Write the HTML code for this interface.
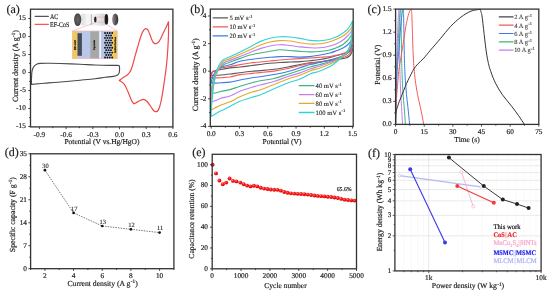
<!DOCTYPE html>
<html><head><meta charset="utf-8"><style>
html,body{margin:0;padding:0;background:#fff;width:550px;height:294px;overflow:hidden}
svg{display:block;will-change:transform;filter:blur(0.3px)}
text{font-family:"Liberation Serif",serif;text-rendering:geometricPrecision;stroke:currentColor;stroke-width:0.18px}
</style></head><body>
<svg width="550" height="294" viewBox="0 0 550 294">
<rect width="550" height="294" fill="#fff"/>
<text x="6.4" y="12.9" font-size="12" text-anchor="start" fill="#222" color="#222" font-weight="normal" >(a)</text>
<path d="M31.4,84.4 C31.42,83.33 31.42,80.07 31.5,78 C31.58,75.93 31.67,73.62 31.9,72 C32.13,70.38 32.47,69.33 32.9,68.3 C33.33,67.27 33.87,66.48 34.5,65.8 C35.13,65.12 35.78,64.6 36.7,64.2 C37.62,63.8 37.78,63.55 40,63.4 C42.22,63.25 46.67,63.28 50,63.3 C53.33,63.32 55,63.35 60,63.5 C65,63.65 74.17,63.95 80,64.2 C85.83,64.45 89.95,64.8 95,65 C100.05,65.2 106.55,65.33 110.3,65.4 C114.05,65.47 116,65.32 117.5,65.4 C119,65.48 119,65.82 119.3,65.9 L119.3,65.9 C119.35,66.3 119.62,67.18 119.6,68.3 C119.58,69.42 119.53,71.48 119.2,72.6 C118.87,73.72 118.57,74.37 117.6,75 C116.63,75.63 115.47,76.02 113.4,76.4 C111.33,76.78 108.27,76.92 105.2,77.3 C102.13,77.68 99.2,78.22 95,78.7 C90.8,79.18 86.17,79.6 80,80.2 C73.83,80.8 63.95,81.8 58,82.3 C52.05,82.8 47.85,82.93 44.3,83.2 C40.75,83.47 38.85,83.7 36.7,83.9 C34.55,84.1 32.28,84.32 31.4,84.4" stroke="#4a4a4a" stroke-width="1.15" fill="none" stroke-linejoin="round" stroke-linecap="round" />
<path d="M119.3,80.4 C119.92,79.97 121.68,78.7 123,77.8 C124.32,76.9 126.12,75.88 127.2,75 C128.28,74.12 128.82,73.47 129.5,72.5 C130.18,71.53 130.63,70.95 131.3,69.2 C131.97,67.45 132.82,64.38 133.5,62 C134.18,59.62 134.73,57.32 135.4,54.9 C136.07,52.48 136.82,49.88 137.5,47.5 C138.18,45.12 138.83,42.77 139.5,40.6 C140.17,38.43 140.82,36.2 141.5,34.5 C142.18,32.8 142.92,31.38 143.6,30.4 C144.28,29.42 144.98,28.78 145.6,28.6 C146.22,28.42 146.78,28.83 147.3,29.3 C147.82,29.77 148.2,30.37 148.7,31.4 C149.2,32.43 149.8,34.13 150.3,35.5 C150.8,36.87 151.2,38.43 151.7,39.6 C152.2,40.77 152.72,41.82 153.3,42.5 C153.88,43.18 154.58,43.57 155.2,43.7 C155.82,43.83 156.38,43.65 157,43.3 C157.62,42.95 158.23,42.48 158.9,41.6 C159.57,40.72 160.32,39.35 161,38 C161.68,36.65 162.17,35.25 163,33.5 C163.83,31.75 165.08,29.45 166,27.5 C166.92,25.55 168.08,22.75 168.5,21.8 L168.5,21.8 C168.5,23.92 168.63,29.67 168.5,34.5 C168.37,39.33 168.05,45.55 167.7,50.8 C167.35,56.05 166.82,61.97 166.4,66 C165.98,70.03 165.65,71.72 165.2,75 C164.75,78.28 164.28,81.87 163.7,85.7 C163.12,89.53 162.38,94.45 161.7,98 C161.02,101.55 160.28,104.83 159.6,107 C158.92,109.17 158.27,110.22 157.6,111 C156.93,111.78 156.28,111.78 155.6,111.7 C154.92,111.62 154.15,111.13 153.5,110.5 C152.85,109.87 152.77,109.4 151.7,107.9 C150.63,106.4 148.5,102.92 147.1,101.5 C145.7,100.08 144.82,99.38 143.3,99.4 C141.78,99.42 139.42,100.9 138,101.6 C136.58,102.3 135.6,103.37 134.8,103.6 C134,103.83 133.82,103.68 133.2,103 C132.58,102.32 131.97,101.37 131.1,99.5 C130.23,97.63 129.15,94.35 128,91.8 C126.85,89.25 125.65,86.1 124.2,84.2 C122.75,82.3 120.12,81.03 119.3,80.4" stroke="#f04848" stroke-width="1.2" fill="none" stroke-linejoin="round" stroke-linecap="round" />
<rect x="30.5" y="9.2" width="142.4" height="117.7" fill="none" stroke="#333" stroke-width="1.3"/>
<path d="M39.4,126.9v2.2M66.1,126.9v2.2M92.8,126.9v2.2M119.5,126.9v2.2M146.2,126.9v2.2M172.9,126.9v2.2M52.75,126.9v1.3M79.45,126.9v1.3M106.15,126.9v1.3M132.85,126.9v1.3M159.55,126.9v1.3" stroke="#333" stroke-width="0.9" fill="none"/>
<text x="39.4" y="136.5" font-size="7.3" text-anchor="middle" fill="#222" color="#222" font-weight="normal" >-0.9</text>
<text x="66.1" y="136.5" font-size="7.3" text-anchor="middle" fill="#222" color="#222" font-weight="normal" >-0.6</text>
<text x="92.8" y="136.5" font-size="7.3" text-anchor="middle" fill="#222" color="#222" font-weight="normal" >-0.3</text>
<text x="119.5" y="136.5" font-size="7.3" text-anchor="middle" fill="#222" color="#222" font-weight="normal" >0.0</text>
<text x="146.2" y="136.5" font-size="7.3" text-anchor="middle" fill="#222" color="#222" font-weight="normal" >0.3</text>
<text x="172.9" y="136.5" font-size="7.3" text-anchor="middle" fill="#222" color="#222" font-weight="normal" >0.6</text>
<path d="M30.5,126.5h-2.2M30.5,108.5h-2.2M30.5,90.5h-2.2M30.5,72.5h-2.2M30.5,54.5h-2.2M30.5,36.5h-2.2M30.5,18.5h-2.2M30.5,117.5h-1.3M30.5,99.5h-1.3M30.5,81.5h-1.3M30.5,63.5h-1.3M30.5,45.5h-1.3M30.5,27.5h-1.3" stroke="#333" stroke-width="0.9" fill="none"/>
<text x="25.8" y="128.45" font-size="7.3" text-anchor="end" fill="#222" color="#222" font-weight="normal" >-15</text>
<text x="25.8" y="110.45" font-size="7.3" text-anchor="end" fill="#222" color="#222" font-weight="normal" >-10</text>
<text x="25.8" y="92.45" font-size="7.3" text-anchor="end" fill="#222" color="#222" font-weight="normal" >-5</text>
<text x="25.8" y="74.45" font-size="7.3" text-anchor="end" fill="#222" color="#222" font-weight="normal" >0</text>
<text x="25.8" y="56.45" font-size="7.3" text-anchor="end" fill="#222" color="#222" font-weight="normal" >5</text>
<text x="25.8" y="38.45" font-size="7.3" text-anchor="end" fill="#222" color="#222" font-weight="normal" >10</text>
<text x="25.8" y="20.45" font-size="7.3" text-anchor="end" fill="#222" color="#222" font-weight="normal" >15</text>
<text x="102" y="143.9" font-size="7.5" text-anchor="middle" fill="#222" color="#222" font-weight="normal" >Potential (V vs.Hg/HgO)</text>
<text transform="translate(17.7,66) rotate(-90)" font-size="7.9" text-anchor="middle" fill="#222" color="#222">Current density (A g<tspan dy="-2.7" dx="0.4" font-size="5.2">-1</tspan><tspan dy="2.7">)</tspan></text>
<path d="M35.1,16.4H48.4" stroke="#555" stroke-width="1.1" fill="none" stroke-linejoin="round" stroke-linecap="round" />
<path d="M35.1,24.4H48.4" stroke="#f55" stroke-width="1.1" fill="none" stroke-linejoin="round" stroke-linecap="round" />
<text x="50" y="19" font-size="7.2" text-anchor="start" fill="#222" color="#222" font-weight="normal"  textLength="8.4" lengthAdjust="spacingAndGlyphs">AC</text>
<text x="50" y="27" font-size="7.2" text-anchor="start" fill="#222" color="#222" font-weight="normal"  textLength="19.3" lengthAdjust="spacingAndGlyphs">EF-CoS</text>
<defs><linearGradient id="tube" x1="0" y1="0" x2="1" y2="0"><stop offset="0" stop-color="#dcdcdc"/><stop offset="0.25" stop-color="#f6f6f6"/><stop offset="0.6" stop-color="#eeeeee"/><stop offset="1" stop-color="#d6d6d6"/></linearGradient><radialGradient id="capL" cx="0.5" cy="0.5" r="0.6"><stop offset="0" stop-color="#6a6a6a"/><stop offset="1" stop-color="#3c3c3c"/></radialGradient><linearGradient id="capR" x1="0" y1="0" x2="1" y2="0"><stop offset="0" stop-color="#9a9a9a"/><stop offset="0.5" stop-color="#5a5a5a"/><stop offset="1" stop-color="#2e2e2e"/></linearGradient></defs>
<rect x="81.5" y="13.6" width="23.5" height="12" fill="url(#tube)"/>
<path d="M91.4,14.5V25" stroke="#777" stroke-width="0.5"/>
<ellipse cx="77.7" cy="19.6" rx="3.6" ry="6.4" fill="url(#capL)"/>
<circle cx="78" cy="19.4" r="0.6" fill="#c03030"/>
<ellipse cx="115.2" cy="19.4" rx="3.1" ry="6" fill="url(#capR)"/>
<circle cx="115.4" cy="19.6" r="0.5" fill="#b04040"/>
<path d="M95.5,17.1H106M95.5,22.1H106" stroke="#f4a0a0" stroke-width="0.5"/>
<ellipse cx="95.3" cy="19.6" rx="1.2" ry="3" fill="#1e1e1e"/>
<ellipse cx="106.4" cy="19.4" rx="1.8" ry="5.4" fill="#1e1e1e"/>
<path d="M95.3,22.6L72.4,31M106.6,24.6L117.1,31" stroke="#f4a0a0" stroke-width="0.55"/>
<rect x="72.4" y="31" width="44.8" height="27.7" fill="#b9c8e8" stroke="#f7b3b3" stroke-width="0.7"/>
<rect x="72.8" y="31.4" width="4.4" height="26.9" fill="#f3ca50"/>
<rect x="112.2" y="31.4" width="4.6" height="26.9" fill="#f3ca50"/>
<rect x="77.5" y="33.2" width="4.4" height="22.6" fill="#464b57"/>
<rect x="90.3" y="31.4" width="8.6" height="26.9" fill="#a7a7a7"/>
<rect x="99.4" y="31.4" width="1.6" height="26.9" fill="#f4f4f4"/>
<g fill="#111"><circle cx="105" cy="33" r="0.95"/><circle cx="107.4" cy="33" r="0.95"/><circle cx="109.8" cy="33" r="0.95"/><circle cx="112.2" cy="33" r="0.95"/><circle cx="106.2" cy="35.45" r="0.95"/><circle cx="108.6" cy="35.45" r="0.95"/><circle cx="111" cy="35.45" r="0.95"/><circle cx="105" cy="37.9" r="0.95"/><circle cx="107.4" cy="37.9" r="0.95"/><circle cx="109.8" cy="37.9" r="0.95"/><circle cx="112.2" cy="37.9" r="0.95"/><circle cx="106.2" cy="40.35" r="0.95"/><circle cx="108.6" cy="40.35" r="0.95"/><circle cx="111" cy="40.35" r="0.95"/><circle cx="105" cy="42.8" r="0.95"/><circle cx="107.4" cy="42.8" r="0.95"/><circle cx="109.8" cy="42.8" r="0.95"/><circle cx="112.2" cy="42.8" r="0.95"/><circle cx="106.2" cy="45.25" r="0.95"/><circle cx="108.6" cy="45.25" r="0.95"/><circle cx="111" cy="45.25" r="0.95"/><circle cx="105" cy="47.7" r="0.95"/><circle cx="107.4" cy="47.7" r="0.95"/><circle cx="109.8" cy="47.7" r="0.95"/><circle cx="112.2" cy="47.7" r="0.95"/><circle cx="106.2" cy="50.15" r="0.95"/><circle cx="108.6" cy="50.15" r="0.95"/><circle cx="111" cy="50.15" r="0.95"/><circle cx="105" cy="52.6" r="0.95"/><circle cx="107.4" cy="52.6" r="0.95"/><circle cx="109.8" cy="52.6" r="0.95"/><circle cx="112.2" cy="52.6" r="0.95"/><circle cx="106.2" cy="55.05" r="0.95"/><circle cx="108.6" cy="55.05" r="0.95"/><circle cx="111" cy="55.05" r="0.95"/><circle cx="105" cy="57.5" r="0.95"/><circle cx="107.4" cy="57.5" r="0.95"/><circle cx="109.8" cy="57.5" r="0.95"/><circle cx="112.2" cy="57.5" r="0.95"/></g>
<text transform="translate(75.9,45) rotate(-90)" font-size="2.9" text-anchor="middle" fill="#222" font-weight="bold">EF-CoS</text>
<text transform="translate(95.4,45) rotate(-90)" font-size="2.6" text-anchor="middle" fill="#333">Separator</text>
<text transform="translate(115.5,45) rotate(-90)" font-size="2.6" text-anchor="middle" fill="#222" font-weight="bold">Active Carbon</text>
<text x="190.2" y="12.9" font-size="12" text-anchor="start" fill="#222" color="#222" font-weight="normal" >(b)</text>
<path d="M211,75.5 C211.13,75.08 211.47,73.67 211.8,73 C212.13,72.33 212.05,71.95 213,71.5 C213.95,71.05 216,70.67 217.5,70.3 C219,69.93 219.92,69.7 222,69.3 C224.08,68.9 227,68.28 230,67.9 C233,67.52 236.67,67.35 240,67 C243.33,66.65 246.67,66.22 250,65.8 C253.33,65.38 256.67,64.92 260,64.5 C263.33,64.08 266.67,63.63 270,63.3 C273.33,62.97 276.67,62.72 280,62.5 C283.33,62.28 286.67,62.15 290,62 C293.33,61.85 296.67,61.82 300,61.6 C303.33,61.38 306.67,61.05 310,60.7 C313.33,60.35 316.67,60.03 320,59.5 C323.33,58.97 327.17,58.17 330,57.5 C332.83,56.83 334.83,56.08 337,55.5 C339.17,54.92 341.25,54.5 343,54 C344.75,53.5 346.25,53 347.5,52.5 C348.75,52 349.67,51.58 350.5,51 C351.33,50.42 352.17,49.33 352.5,49 L352.5,49 C352.33,49.67 352,51.83 351.5,53 C351,54.17 350.42,55.17 349.5,56 C348.58,56.83 347.58,57.5 346,58 C344.42,58.5 342.67,58.58 340,59 C337.33,59.42 333.33,60.03 330,60.5 C326.67,60.97 323.33,61.42 320,61.8 C316.67,62.18 313.33,62.35 310,62.8 C306.67,63.25 303.67,63.8 300,64.5 C296.33,65.2 292.33,66.2 288,67 C283.67,67.8 278.67,68.7 274,69.3 C269.33,69.9 263.67,70.27 260,70.6 C256.33,70.93 255.33,70.95 252,71.3 C248.67,71.65 243.67,72.25 240,72.7 C236.33,73.15 233.17,73.62 230,74 C226.83,74.38 223.5,74.78 221,75 C218.5,75.22 216.67,75.22 215,75.3 C213.33,75.38 211.67,75.47 211,75.5" stroke="#5a5a5a" stroke-width="1.15" fill="none" stroke-linejoin="round" stroke-linecap="round" />
<path d="M211,77.8 C211.1,77.25 211.35,75.43 211.6,74.5 C211.85,73.57 212.1,72.78 212.5,72.2 C212.9,71.62 213.17,71.4 214,71 C214.83,70.6 216.33,70.3 217.5,69.8 C218.67,69.3 218.92,68.53 221,68 C223.08,67.47 226.83,67.17 230,66.6 C233.17,66.03 236.67,65.2 240,64.6 C243.33,64 246.67,63.43 250,63 C253.33,62.57 256.67,62.33 260,62 C263.33,61.67 266.67,61.33 270,61 C273.33,60.67 276.67,60.3 280,60 C283.33,59.7 286.67,59.43 290,59.2 C293.33,58.97 296.67,58.8 300,58.6 C303.33,58.4 306.67,58.22 310,58 C313.33,57.78 316.67,57.55 320,57.3 C323.33,57.05 327.17,56.88 330,56.5 C332.83,56.12 334.83,55.5 337,55 C339.17,54.5 341.25,54.08 343,53.5 C344.75,52.92 346.25,52.25 347.5,51.5 C348.75,50.75 349.67,50.08 350.5,49 C351.33,47.92 352.17,45.67 352.5,45 L352.5,45 C352.33,45.83 352,48.5 351.5,50 C351,51.5 350.42,52.92 349.5,54 C348.58,55.08 347.58,55.83 346,56.5 C344.42,57.17 342.67,57.42 340,58 C337.33,58.58 333.33,59.33 330,60 C326.67,60.67 323.33,61.43 320,62 C316.67,62.57 313.33,62.82 310,63.4 C306.67,63.98 303.67,64.65 300,65.5 C296.33,66.35 292.33,67.57 288,68.5 C283.67,69.43 278.67,70.42 274,71.1 C269.33,71.78 263.67,72.22 260,72.6 C256.33,72.98 255.33,73.07 252,73.4 C248.67,73.73 243.67,74 240,74.6 C236.33,75.2 233.17,76.48 230,77 C226.83,77.52 223.5,77.55 221,77.7 C218.5,77.85 216.67,77.88 215,77.9 C213.33,77.92 211.67,77.82 211,77.8" stroke="#f45b5b" stroke-width="1.15" fill="none" stroke-linejoin="round" stroke-linecap="round" />
<path d="M211,83.2 C211.2,82.33 211.7,79.53 212.2,78 C212.7,76.47 213.28,75.17 214,74 C214.72,72.83 215.58,71.92 216.5,71 C217.42,70.08 218.42,69.23 219.5,68.5 C220.58,67.77 221.25,67.22 223,66.6 C224.75,65.98 227.17,65.68 230,64.8 C232.83,63.92 236.67,62.18 240,61.3 C243.33,60.42 246.67,60 250,59.5 C253.33,59 256.67,58.67 260,58.3 C263.33,57.93 266.67,57.58 270,57.3 C273.33,57.02 276.67,56.72 280,56.6 C283.33,56.48 286.67,56.52 290,56.6 C293.33,56.68 296.67,57.1 300,57.1 C303.33,57.1 306.67,56.95 310,56.6 C313.33,56.25 316.67,55.6 320,55 C323.33,54.4 327.17,53.75 330,53 C332.83,52.25 334.83,51.33 337,50.5 C339.17,49.67 341.25,48.92 343,48 C344.75,47.08 346.25,46.08 347.5,45 C348.75,43.92 349.67,42.83 350.5,41.5 C351.33,40.17 352.17,37.75 352.5,37 L352.5,37 C352.33,38.5 352,43.67 351.5,46 C351,48.33 350.42,49.58 349.5,51 C348.58,52.42 347.58,53.5 346,54.5 C344.42,55.5 342.67,56.08 340,57 C337.33,57.92 333.33,59.08 330,60 C326.67,60.92 323.33,61.75 320,62.5 C316.67,63.25 313.33,63.62 310,64.5 C306.67,65.38 303.67,66.63 300,67.8 C296.33,68.97 292.33,70.38 288,71.5 C283.67,72.62 278.67,73.62 274,74.5 C269.33,75.38 263.67,76.25 260,76.8 C256.33,77.35 255.33,77.27 252,77.8 C248.67,78.33 243.67,79.28 240,80 C236.33,80.72 233.17,81.63 230,82.1 C226.83,82.57 223.5,82.63 221,82.8 C218.5,82.97 216.67,83.03 215,83.1 C213.33,83.17 211.67,83.18 211,83.2" stroke="#3d7ae6" stroke-width="1.15" fill="none" stroke-linejoin="round" stroke-linecap="round" />
<path d="M211,93.5 C211.17,92.08 211.58,87.42 212,85 C212.42,82.58 212.92,80.75 213.5,79 C214.08,77.25 214.75,75.95 215.5,74.5 C216.25,73.05 217,71.63 218,70.3 C219,68.97 220.33,67.55 221.5,66.5 C222.67,65.45 223.58,64.72 225,64 C226.42,63.28 227.5,63.13 230,62.2 C232.5,61.27 236.67,59.6 240,58.4 C243.33,57.2 246.67,55.9 250,55 C253.33,54.1 256.67,53.62 260,53 C263.33,52.38 266.67,51.83 270,51.3 C273.33,50.77 276.67,49.93 280,49.8 C283.33,49.67 286.67,50.23 290,50.5 C293.33,50.77 296.67,51.17 300,51.4 C303.33,51.63 306.67,51.88 310,51.9 C313.33,51.92 316.67,51.82 320,51.5 C323.33,51.18 327.17,50.67 330,50 C332.83,49.33 334.83,48.42 337,47.5 C339.17,46.58 341.25,45.67 343,44.5 C344.75,43.33 346.25,41.83 347.5,40.5 C348.75,39.17 349.67,37.75 350.5,36.5 C351.33,35.25 352.17,33.58 352.5,33 L352.5,33 C352.33,34.67 352,40.25 351.5,43 C351,45.75 350.42,47.67 349.5,49.5 C348.58,51.33 347.58,52.67 346,54 C344.42,55.33 342.67,56.25 340,57.5 C337.33,58.75 333.33,60.33 330,61.5 C326.67,62.67 323.33,63.58 320,64.5 C316.67,65.42 313.33,66.03 310,67 C306.67,67.97 303.67,69.1 300,70.3 C296.33,71.5 292.33,72.83 288,74.2 C283.67,75.57 278.67,77.4 274,78.5 C269.33,79.6 263.67,80.08 260,80.8 C256.33,81.52 255.33,81.88 252,82.8 C248.67,83.72 243.67,85.17 240,86.3 C236.33,87.43 233.17,88.73 230,89.6 C226.83,90.47 223.5,90.93 221,91.5 C218.5,92.07 216.67,92.67 215,93 C213.33,93.33 211.67,93.42 211,93.5" stroke="#3fb57e" stroke-width="1.15" fill="none" stroke-linejoin="round" stroke-linecap="round" />
<path d="M211,102.3 C211.13,100.75 211.47,95.88 211.8,93 C212.13,90.12 212.5,87.5 213,85 C213.5,82.5 214.13,80.08 214.8,78 C215.47,75.92 216.22,74.17 217,72.5 C217.78,70.83 218.67,69.33 219.5,68 C220.33,66.67 221.08,65.45 222,64.5 C222.92,63.55 223.67,62.98 225,62.3 C226.33,61.62 227.5,61.37 230,60.4 C232.5,59.43 236.67,57.82 240,56.5 C243.33,55.18 246.67,53.82 250,52.5 C253.33,51.18 256.67,49.68 260,48.6 C263.33,47.52 266.67,46.65 270,46 C273.33,45.35 276.67,44.78 280,44.7 C283.33,44.62 286.67,45.13 290,45.5 C293.33,45.87 296.67,46.52 300,46.9 C303.33,47.28 306.67,47.65 310,47.8 C313.33,47.95 316.67,48.1 320,47.8 C323.33,47.5 327.17,46.72 330,46 C332.83,45.28 334.83,44.5 337,43.5 C339.17,42.5 341.25,41.25 343,40 C344.75,38.75 346.25,37.25 347.5,36 C348.75,34.75 349.67,33.67 350.5,32.5 C351.33,31.33 352.17,29.58 352.5,29 L352.5,29 C352.33,31 352,37.75 351.5,41 C351,44.25 350.42,46.42 349.5,48.5 C348.58,50.58 347.58,51.92 346,53.5 C344.42,55.08 342.67,56.5 340,58 C337.33,59.5 333.33,61.17 330,62.5 C326.67,63.83 323.33,64.92 320,66 C316.67,67.08 313.33,67.85 310,69 C306.67,70.15 303.67,71.65 300,72.9 C296.33,74.15 292.33,75.07 288,76.5 C283.67,77.93 278.67,80.08 274,81.5 C269.33,82.92 263.67,84.03 260,85 C256.33,85.97 255.33,86.27 252,87.3 C248.67,88.33 243.67,89.75 240,91.2 C236.33,92.65 233.17,94.83 230,96 C226.83,97.17 223.5,97.4 221,98.2 C218.5,99 216.67,100.12 215,100.8 C213.33,101.48 211.67,102.05 211,102.3" stroke="#c57ef0" stroke-width="1.15" fill="none" stroke-linejoin="round" stroke-linecap="round" />
<path d="M211,110.3 C211.12,108.58 211.4,103.38 211.7,100 C212,96.62 212.37,93.17 212.8,90 C213.23,86.83 213.68,83.75 214.3,81 C214.92,78.25 215.72,75.75 216.5,73.5 C217.28,71.25 218.17,69.17 219,67.5 C219.83,65.83 220.6,64.62 221.5,63.5 C222.4,62.38 222.98,61.62 224.4,60.8 C225.82,59.98 227.4,59.68 230,58.6 C232.6,57.52 236.67,55.77 240,54.3 C243.33,52.83 246.67,51.3 250,49.8 C253.33,48.3 256.67,46.6 260,45.3 C263.33,44 266.67,42.78 270,42 C273.33,41.22 276.67,40.77 280,40.6 C283.33,40.43 286.67,40.65 290,41 C293.33,41.35 296.67,42.2 300,42.7 C303.33,43.2 306.67,43.83 310,44 C313.33,44.17 316.67,44.07 320,43.7 C323.33,43.33 327.17,42.58 330,41.8 C332.83,41.02 334.83,39.97 337,39 C339.17,38.03 341.25,37.08 343,36 C344.75,34.92 346.25,33.67 347.5,32.5 C348.75,31.33 349.67,30.17 350.5,29 C351.33,27.83 352.17,26.08 352.5,25.5 L352.5,25.5 C352.33,27.75 352,35.33 351.5,39 C351,42.67 350.42,45.08 349.5,47.5 C348.58,49.92 347.58,51.67 346,53.5 C344.42,55.33 342.67,56.75 340,58.5 C337.33,60.25 333.33,62.42 330,64 C326.67,65.58 323.33,66.83 320,68 C316.67,69.17 313.33,69.78 310,71 C306.67,72.22 303.67,73.97 300,75.3 C296.33,76.63 292.33,77.47 288,79 C283.67,80.53 278.67,82.67 274,84.5 C269.33,86.33 263.67,88.75 260,90 C256.33,91.25 255.33,90.87 252,92 C248.67,93.13 243.67,95.17 240,96.8 C236.33,98.43 233.17,100.43 230,101.8 C226.83,103.17 223.5,103.97 221,105 C218.5,106.03 216.67,107.12 215,108 C213.33,108.88 211.67,109.92 211,110.3" stroke="#e3a92e" stroke-width="1.15" fill="none" stroke-linejoin="round" stroke-linecap="round" />
<path d="M211,116.5 C211.1,114.75 211.33,109.75 211.6,106 C211.87,102.25 212.2,97.83 212.6,94 C213,90.17 213.47,86.25 214,83 C214.53,79.75 215.22,76.9 215.8,74.5 C216.38,72.1 216.67,70.63 217.5,68.6 C218.33,66.57 219.65,63.88 220.8,62.3 C221.95,60.72 222.87,60.02 224.4,59.1 C225.93,58.18 227.4,57.98 230,56.8 C232.6,55.62 236.67,53.63 240,52 C243.33,50.37 246.67,48.73 250,47 C253.33,45.27 256.67,43.05 260,41.6 C263.33,40.15 266.67,39.1 270,38.3 C273.33,37.5 276.67,37.02 280,36.8 C283.33,36.58 286.67,36.73 290,37 C293.33,37.27 296.67,37.83 300,38.4 C303.33,38.97 306.67,40 310,40.4 C313.33,40.8 316.67,41 320,40.8 C323.33,40.6 327.17,39.9 330,39.2 C332.83,38.5 334.83,37.63 337,36.6 C339.17,35.57 341.25,34.2 343,33 C344.75,31.8 346.25,30.73 347.5,29.4 C348.75,28.07 349.67,26.4 350.5,25 C351.33,23.6 352.17,21.67 352.5,21 L352.5,21 C352.33,23.83 352,33.67 351.5,38 C351,42.33 350.42,44.5 349.5,47 C348.58,49.5 347.58,51 346,53 C344.42,55 342.67,56.75 340,59 C337.33,61.25 333.33,64.5 330,66.5 C326.67,68.5 323.33,69.75 320,71 C316.67,72.25 313.33,72.67 310,74 C306.67,75.33 303.67,77.5 300,79 C296.33,80.5 292.33,81.38 288,83 C283.67,84.62 278.67,86.7 274,88.7 C269.33,90.7 263.67,93.57 260,95 C256.33,96.43 255.33,96.25 252,97.3 C248.67,98.35 243.67,99.78 240,101.3 C236.33,102.82 233.17,104.82 230,106.4 C226.83,107.98 223.5,109.5 221,110.8 C218.5,112.1 216.67,113.25 215,114.2 C213.33,115.15 211.67,116.12 211,116.5" stroke="#34d2d6" stroke-width="1.15" fill="none" stroke-linejoin="round" stroke-linecap="round" />
<rect x="210.3" y="9.1" width="142.9" height="117.3" fill="none" stroke="#333" stroke-width="1.3"/>
<path d="M211.2,126.4v2.2M239.48,126.4v2.2M267.76,126.4v2.2M296.04,126.4v2.2M324.32,126.4v2.2M352.6,126.4v2.2M225.34,126.4v1.3M253.62,126.4v1.3M281.9,126.4v1.3M310.18,126.4v1.3M338.46,126.4v1.3" stroke="#333" stroke-width="0.9" fill="none"/>
<text x="211.2" y="136.1" font-size="7.3" text-anchor="middle" fill="#222" color="#222" font-weight="normal" >0.0</text>
<text x="239.48" y="136.1" font-size="7.3" text-anchor="middle" fill="#222" color="#222" font-weight="normal" >0.3</text>
<text x="267.76" y="136.1" font-size="7.3" text-anchor="middle" fill="#222" color="#222" font-weight="normal" >0.6</text>
<text x="296.04" y="136.1" font-size="7.3" text-anchor="middle" fill="#222" color="#222" font-weight="normal" >0.9</text>
<text x="324.32" y="136.1" font-size="7.3" text-anchor="middle" fill="#222" color="#222" font-weight="normal" >1.2</text>
<text x="352.6" y="136.1" font-size="7.3" text-anchor="middle" fill="#222" color="#222" font-weight="normal" >1.5</text>
<path d="M210.3,126.4h-2.2M210.3,98.8h-2.2M210.3,71.2h-2.2M210.3,43.6h-2.2M210.3,16h-2.2M210.3,112.6h-1.3M210.3,85h-1.3M210.3,57.4h-1.3M210.3,29.8h-1.3" stroke="#333" stroke-width="0.9" fill="none"/>
<text x="206.5" y="128.35" font-size="7.3" text-anchor="end" fill="#222" color="#222" font-weight="normal" >-4</text>
<text x="206.5" y="100.75" font-size="7.3" text-anchor="end" fill="#222" color="#222" font-weight="normal" >-2</text>
<text x="206.5" y="73.15" font-size="7.3" text-anchor="end" fill="#222" color="#222" font-weight="normal" >0</text>
<text x="206.5" y="45.55" font-size="7.3" text-anchor="end" fill="#222" color="#222" font-weight="normal" >2</text>
<text x="206.5" y="17.95" font-size="7.3" text-anchor="end" fill="#222" color="#222" font-weight="normal" >4</text>
<text x="282" y="144.2" font-size="7.5" text-anchor="middle" fill="#222" color="#222" font-weight="normal" >Potential (V)</text>
<text transform="translate(197.7,74.7) rotate(-90)" font-size="8.0" text-anchor="middle" fill="#222" color="#222">Current density (A g<tspan dy="-2.7" dx="0.4" font-size="5.2">-1</tspan><tspan dy="2.7">)</tspan></text>
<path d="M213.2,17.8H227.6" stroke="#5a5a5a" stroke-width="1.3" fill="none" stroke-linejoin="round" stroke-linecap="round" />
<text x="229.4" y="20.1" font-size="6.6" text-anchor="start" fill="#222" color="#222" font-weight="normal"  textLength="23.3" lengthAdjust="spacingAndGlyphs" style="stroke-width:0.1px">5 mV s<tspan dy="-2.4" dx="0.2" font-size="4.6">-1</tspan></text>
<path d="M213.2,26.9H227.6" stroke="#f45b5b" stroke-width="1.3" fill="none" stroke-linejoin="round" stroke-linecap="round" />
<text x="229.4" y="29.2" font-size="6.6" text-anchor="start" fill="#222" color="#222" font-weight="normal"  textLength="26" lengthAdjust="spacingAndGlyphs" style="stroke-width:0.1px">10 mV s<tspan dy="-2.4" dx="0.2" font-size="4.6">-1</tspan></text>
<path d="M213.2,35.9H227.6" stroke="#3d7ae6" stroke-width="1.3" fill="none" stroke-linejoin="round" stroke-linecap="round" />
<text x="229.4" y="38.2" font-size="6.6" text-anchor="start" fill="#222" color="#222" font-weight="normal"  textLength="26" lengthAdjust="spacingAndGlyphs" style="stroke-width:0.1px">20 mV s<tspan dy="-2.4" dx="0.2" font-size="4.6">-1</tspan></text>
<path d="M299.3,85.7H314" stroke="#3fb57e" stroke-width="1.3" fill="none" stroke-linejoin="round" stroke-linecap="round" />
<text x="315.6" y="88" font-size="6.6" text-anchor="start" fill="#222" color="#222" font-weight="normal"  textLength="26.3" lengthAdjust="spacingAndGlyphs" style="stroke-width:0.1px">40 mV s<tspan dy="-2.4" dx="0.2" font-size="4.6">-1</tspan></text>
<path d="M299.3,94.6H314" stroke="#c57ef0" stroke-width="1.3" fill="none" stroke-linejoin="round" stroke-linecap="round" />
<text x="315.6" y="96.9" font-size="6.6" text-anchor="start" fill="#222" color="#222" font-weight="normal"  textLength="26.3" lengthAdjust="spacingAndGlyphs" style="stroke-width:0.1px">60 mV s<tspan dy="-2.4" dx="0.2" font-size="4.6">-1</tspan></text>
<path d="M299.3,103.4H314" stroke="#e3a92e" stroke-width="1.3" fill="none" stroke-linejoin="round" stroke-linecap="round" />
<text x="315.6" y="105.7" font-size="6.6" text-anchor="start" fill="#222" color="#222" font-weight="normal"  textLength="26.3" lengthAdjust="spacingAndGlyphs" style="stroke-width:0.1px">80 mV s<tspan dy="-2.4" dx="0.2" font-size="4.6">-1</tspan></text>
<path d="M299.3,112.5H314" stroke="#34d2d6" stroke-width="1.3" fill="none" stroke-linejoin="round" stroke-linecap="round" />
<text x="315.6" y="114.8" font-size="6.6" text-anchor="start" fill="#222" color="#222" font-weight="normal"  textLength="29.7" lengthAdjust="spacingAndGlyphs" style="stroke-width:0.1px">100 mV s<tspan dy="-2.4" dx="0.2" font-size="4.6">-1</tspan></text>
<text x="367.6" y="12.9" font-size="12" text-anchor="start" fill="#222" color="#222" font-weight="normal" >(c)</text>
<path d="M395.6,124.4 C395.6,122.5 395.6,116.27 395.61,113.01 C395.63,109.74 395.67,107.37 395.71,104.83 C395.74,102.3 395.76,101.38 395.81,97.81 C395.87,94.24 395.99,87.28 396.06,83.42 C396.12,79.57 396.18,77.07 396.23,74.68 C396.28,72.28 396.31,70.78 396.35,69.04 C396.4,67.29 396.44,66.03 396.51,64.2 C396.58,62.38 396.68,60.39 396.77,58.1 C396.86,55.82 396.91,53.75 397.03,50.51 C397.14,47.26 397.31,42.66 397.45,38.65 C397.59,34.64 397.73,30.02 397.87,26.45 C398.01,22.88 398.15,19.79 398.3,17.24 C398.44,14.69 398.58,12.47 398.72,11.14 C398.85,9.82 399.04,9.61 399.1,9.3 L399.1,9.3 C399.11,9.84 399.14,11.2 399.17,12.52 C399.19,13.85 399.21,13.39 399.25,17.24 C399.29,21.1 399.36,29.88 399.41,35.66 C399.46,41.43 399.51,47.26 399.56,51.89 C399.62,56.51 399.67,60.12 399.73,63.4 C399.78,66.68 399.82,68.27 399.91,71.57 C400,74.87 400.12,79.34 400.27,83.19 C400.42,87.05 400.6,90.85 400.8,94.7 C401.01,98.56 401.31,102.84 401.52,106.33 C401.73,109.82 401.89,112.64 402.05,115.65 C402.21,118.66 402.43,122.94 402.5,124.4" stroke="#c57ef0" stroke-width="1.0" fill="none" stroke-linejoin="round" stroke-linecap="round" />
<path d="M395.6,124.4 C395.6,122.5 395.59,116.27 395.62,113.01 C395.65,109.74 395.71,107.37 395.76,104.83 C395.81,102.3 395.83,101.38 395.92,97.81 C396.01,94.24 396.18,87.28 396.29,83.42 C396.39,79.57 396.48,77.07 396.55,74.68 C396.63,72.28 396.67,70.78 396.74,69.04 C396.81,67.29 396.87,66.03 396.98,64.2 C397.08,62.38 397.24,60.39 397.37,58.1 C397.5,55.82 397.59,53.75 397.76,50.51 C397.93,47.26 398.19,42.66 398.4,38.65 C398.62,34.64 398.83,30.02 399.04,26.45 C399.25,22.88 399.47,19.79 399.68,17.24 C399.89,14.69 400.11,12.47 400.32,11.14 C400.52,9.82 400.8,9.61 400.9,9.3 L400.9,9.3 C400.91,9.84 400.96,11.2 400.99,12.52 C401.02,13.85 401.04,13.39 401.09,17.24 C401.15,21.1 401.24,29.88 401.31,35.66 C401.38,41.43 401.44,47.26 401.51,51.89 C401.58,56.51 401.65,60.12 401.73,63.4 C401.8,66.68 401.85,68.27 401.97,71.57 C402.09,74.87 402.26,79.34 402.45,83.19 C402.65,87.05 402.88,90.85 403.15,94.7 C403.43,98.56 403.83,102.84 404.1,106.33 C404.38,109.82 404.59,112.64 404.81,115.65 C405.02,118.66 405.3,122.94 405.4,124.4" stroke="#3fb57e" stroke-width="1.0" fill="none" stroke-linejoin="round" stroke-linecap="round" />
<path d="M395.6,124.4 C395.61,122.5 395.59,116.27 395.63,113.01 C395.67,109.74 395.76,107.37 395.83,104.83 C395.91,102.3 395.95,101.38 396.08,97.81 C396.21,94.24 396.46,87.28 396.61,83.42 C396.77,79.57 396.89,77.07 397,74.68 C397.11,72.28 397.17,70.78 397.28,69.04 C397.38,67.29 397.47,66.03 397.63,64.2 C397.78,62.38 398.01,60.39 398.21,58.1 C398.4,55.82 398.53,53.75 398.78,50.51 C399.04,47.26 399.41,42.66 399.73,38.65 C400.04,34.64 400.35,30.02 400.66,26.45 C400.98,22.88 401.29,19.79 401.61,17.24 C401.92,14.69 402.24,12.47 402.54,11.14 C402.84,9.82 403.26,9.61 403.4,9.3 L403.4,9.3 C403.42,9.84 403.48,11.2 403.52,12.52 C403.57,13.85 403.59,13.39 403.67,17.24 C403.74,21.1 403.87,29.88 403.96,35.66 C404.06,41.43 404.15,47.26 404.24,51.89 C404.34,56.51 404.44,60.12 404.54,63.4 C404.65,66.68 404.71,68.27 404.88,71.57 C405.04,74.87 405.27,79.34 405.54,83.19 C405.81,87.05 406.13,90.85 406.51,94.7 C406.89,98.56 407.44,102.84 407.81,106.33 C408.19,109.82 408.48,112.64 408.78,115.65 C409.08,118.66 409.46,122.94 409.6,124.4" stroke="#3d7ae6" stroke-width="1.0" fill="none" stroke-linejoin="round" stroke-linecap="round" />
<path d="M395.6,124.4 C395.61,122.5 395.58,116.27 395.66,113.01 C395.74,109.74 395.92,107.37 396.07,104.83 C396.22,102.3 396.3,101.38 396.56,97.81 C396.83,94.24 397.34,87.28 397.65,83.42 C397.97,79.57 398.22,77.07 398.44,74.68 C398.67,72.28 398.79,70.78 399,69.04 C399.21,67.29 399.39,66.03 399.71,64.2 C400.02,62.38 400.49,60.39 400.88,58.1 C401.27,55.82 401.53,53.75 402.05,50.51 C402.56,47.26 403.32,42.66 403.96,38.65 C404.59,34.64 405.22,30.02 405.85,26.45 C406.49,22.88 407.13,19.79 407.77,17.24 C408.4,14.69 409.06,12.47 409.66,11.14 C410.27,9.82 411.11,9.61 411.4,9.3 L411.4,9.3 C411.44,9.84 411.56,11.2 411.65,12.52 C411.73,13.85 411.78,13.39 411.93,17.24 C412.07,21.1 412.33,29.88 412.52,35.66 C412.71,41.43 412.88,47.26 413.07,51.89 C413.26,56.51 413.45,60.12 413.66,63.4 C413.87,66.68 414,68.27 414.33,71.57 C414.66,74.87 415.1,79.34 415.64,83.19 C416.18,87.05 416.81,90.85 417.56,94.7 C418.31,98.56 419.41,102.84 420.16,106.33 C420.91,109.82 421.49,112.64 422.08,115.65 C422.67,118.66 423.43,122.94 423.7,124.4" stroke="#f45b5b" stroke-width="1.0" fill="none" stroke-linejoin="round" stroke-linecap="round" />
<path d="M395.6,124.4 C395.66,122.5 395.52,116.27 395.94,113.01 C396.36,109.74 397.34,107.37 398.14,104.83 C398.95,102.3 399.36,101.38 400.77,97.81 C402.18,94.24 404.93,87.28 406.61,83.42 C408.29,79.57 409.65,77.07 410.85,74.68 C412.05,72.28 412.68,70.78 413.81,69.04 C414.94,67.29 415.94,66.03 417.62,64.2 C419.3,62.38 421.8,60.39 423.89,58.1 C425.98,55.82 427.4,53.75 430.16,50.51 C432.91,47.26 437,42.66 440.41,38.65 C443.81,34.64 447.17,30.02 450.57,26.45 C453.97,22.88 457.42,19.79 460.82,17.24 C464.22,14.69 467.74,12.47 470.98,11.14 C474.23,9.82 478.75,9.61 480.3,9.3 L480.3,9.3 C480.45,9.84 480.87,11.2 481.18,12.52 C481.5,13.85 481.67,13.39 482.2,17.24 C482.72,21.1 483.63,29.88 484.31,35.66 C485,41.43 485.61,47.26 486.3,51.89 C486.98,56.51 487.66,60.12 488.41,63.4 C489.16,66.68 489.61,68.27 490.8,71.57 C491.98,74.87 493.58,79.34 495.51,83.19 C497.45,87.05 499.7,90.85 502.39,94.7 C505.09,98.56 509,102.84 511.7,106.33 C514.4,109.82 516.46,112.64 518.58,115.65 C520.7,118.66 523.43,122.94 524.4,124.4" stroke="#333333" stroke-width="1.0" fill="none" stroke-linejoin="round" stroke-linecap="round" />
<rect x="395.6" y="9.1" width="143.2" height="115.3" fill="none" stroke="#333" stroke-width="1.3"/>
<path d="M395.6,124.4v2.2M424.24,124.4v2.2M452.88,124.4v2.2M481.52,124.4v2.2M510.16,124.4v2.2M538.8,124.4v2.2M409.92,124.4v1.3M438.56,124.4v1.3M467.2,124.4v1.3M495.84,124.4v1.3M524.48,124.4v1.3" stroke="#333" stroke-width="0.9" fill="none"/>
<text x="395.6" y="133.9" font-size="7.3" text-anchor="middle" fill="#222" color="#222" font-weight="normal" >0</text>
<text x="424.24" y="133.9" font-size="7.3" text-anchor="middle" fill="#222" color="#222" font-weight="normal" >15</text>
<text x="452.88" y="133.9" font-size="7.3" text-anchor="middle" fill="#222" color="#222" font-weight="normal" >30</text>
<text x="481.52" y="133.9" font-size="7.3" text-anchor="middle" fill="#222" color="#222" font-weight="normal" >45</text>
<text x="510.16" y="133.9" font-size="7.3" text-anchor="middle" fill="#222" color="#222" font-weight="normal" >60</text>
<text x="538.8" y="133.9" font-size="7.3" text-anchor="middle" fill="#222" color="#222" font-weight="normal" >75</text>
<path d="M395.6,124.4h-2.2M395.6,101.34h-2.2M395.6,78.28h-2.2M395.6,55.22h-2.2M395.6,32.16h-2.2M395.6,9.1h-2.2M395.6,112.87h-1.3M395.6,89.81h-1.3M395.6,66.75h-1.3M395.6,43.69h-1.3M395.6,20.63h-1.3" stroke="#333" stroke-width="0.9" fill="none"/>
<text x="391.6" y="126.35" font-size="7.3" text-anchor="end" fill="#222" color="#222" font-weight="normal" >0.0</text>
<text x="391.6" y="103.29" font-size="7.3" text-anchor="end" fill="#222" color="#222" font-weight="normal" >0.3</text>
<text x="391.6" y="80.23" font-size="7.3" text-anchor="end" fill="#222" color="#222" font-weight="normal" >0.6</text>
<text x="391.6" y="57.17" font-size="7.3" text-anchor="end" fill="#222" color="#222" font-weight="normal" >0.9</text>
<text x="391.6" y="34.11" font-size="7.3" text-anchor="end" fill="#222" color="#222" font-weight="normal" >1.2</text>
<text x="391.6" y="11.05" font-size="7.3" text-anchor="end" fill="#222" color="#222" font-weight="normal" >1.5</text>
<text x="467" y="142.2" font-size="7.5" text-anchor="middle" fill="#222" color="#222" font-weight="normal" >Time (s)</text>
<text transform="translate(380.2,64.7) rotate(-90)" font-size="7.7" text-anchor="middle" fill="#222" color="#222">Potential (V)</text>
<path d="M499.3,16.9H513.1" stroke="#444444" stroke-width="1.2" fill="none" stroke-linejoin="round" stroke-linecap="round" />
<text x="514.2" y="19.2" font-size="6.3" text-anchor="start" fill="#333" color="#333" font-weight="normal"  textLength="17.8" lengthAdjust="spacingAndGlyphs" style="stroke-width:0.08px">2 A g<tspan dy="-2.3" dx="0.3" font-size="4.4">-1</tspan></text>
<path d="M499.3,25.2H513.1" stroke="#f45b5b" stroke-width="1.2" fill="none" stroke-linejoin="round" stroke-linecap="round" />
<text x="514.2" y="27.5" font-size="6.3" text-anchor="start" fill="#333" color="#333" font-weight="normal"  textLength="17.8" lengthAdjust="spacingAndGlyphs" style="stroke-width:0.08px">4 A g<tspan dy="-2.3" dx="0.3" font-size="4.4">-1</tspan></text>
<path d="M499.3,33.5H513.1" stroke="#3d7ae6" stroke-width="1.2" fill="none" stroke-linejoin="round" stroke-linecap="round" />
<text x="514.2" y="35.8" font-size="6.3" text-anchor="start" fill="#333" color="#333" font-weight="normal"  textLength="17.8" lengthAdjust="spacingAndGlyphs" style="stroke-width:0.08px">6 A g<tspan dy="-2.3" dx="0.3" font-size="4.4">-1</tspan></text>
<path d="M499.3,41.8H513.1" stroke="#3fb57e" stroke-width="1.2" fill="none" stroke-linejoin="round" stroke-linecap="round" />
<text x="514.2" y="44.1" font-size="6.3" text-anchor="start" fill="#333" color="#333" font-weight="normal"  textLength="17.8" lengthAdjust="spacingAndGlyphs" style="stroke-width:0.08px">8 A g<tspan dy="-2.3" dx="0.3" font-size="4.4">-1</tspan></text>
<path d="M499.3,50.1H513.1" stroke="#c57ef0" stroke-width="1.2" fill="none" stroke-linejoin="round" stroke-linecap="round" />
<text x="514.2" y="52.4" font-size="6.3" text-anchor="start" fill="#333" color="#333" font-weight="normal"  textLength="20.4" lengthAdjust="spacingAndGlyphs" style="stroke-width:0.08px">10 A g<tspan dy="-2.3" dx="0.3" font-size="4.4">-1</tspan></text>
<text x="4.8" y="155.5" font-size="12" text-anchor="start" fill="#222" color="#222" font-weight="normal" >(d)</text>
<path d="M44.93,170.21 L73.59,212.89 L102.25,226.02 L130.91,229.31 L159.57,232.59" stroke="#555" stroke-width="0.8" fill="none" stroke-linejoin="round" stroke-linecap="butt" stroke-dasharray="1.5,1.1"/>
<circle cx="44.93" cy="170.21" r="1.35" fill="#111"/>
<text x="45.53" y="167.91" font-size="6.5" text-anchor="middle" fill="#222" color="#222" font-weight="normal"  style="stroke-width:0.1px">30</text>
<circle cx="73.59" cy="212.89" r="1.35" fill="#111"/>
<text x="74.19" y="210.59" font-size="6.5" text-anchor="middle" fill="#222" color="#222" font-weight="normal"  style="stroke-width:0.1px">17</text>
<circle cx="102.25" cy="226.02" r="1.35" fill="#111"/>
<text x="102.85" y="223.72" font-size="6.5" text-anchor="middle" fill="#222" color="#222" font-weight="normal"  style="stroke-width:0.1px">13</text>
<circle cx="130.91" cy="229.31" r="1.35" fill="#111"/>
<text x="131.51" y="227.01" font-size="6.5" text-anchor="middle" fill="#222" color="#222" font-weight="normal"  style="stroke-width:0.1px">12</text>
<circle cx="159.57" cy="232.59" r="1.35" fill="#111"/>
<text x="160.17" y="230.29" font-size="6.5" text-anchor="middle" fill="#222" color="#222" font-weight="normal"  style="stroke-width:0.1px">11</text>
<rect x="30.6" y="153.8" width="143.3" height="114.9" fill="none" stroke="#333" stroke-width="1.3"/>
<path d="M44.93,268.7v2.2M73.59,268.7v2.2M102.25,268.7v2.2M130.91,268.7v2.2M159.57,268.7v2.2M30.6,268.7v1.3M59.26,268.7v1.3M87.92,268.7v1.3M116.58,268.7v1.3M145.24,268.7v1.3M173.9,268.7v1.3" stroke="#333" stroke-width="0.9" fill="none"/>
<text x="44.93" y="278" font-size="7.3" text-anchor="middle" fill="#222" color="#222" font-weight="normal" >2</text>
<text x="73.59" y="278" font-size="7.3" text-anchor="middle" fill="#222" color="#222" font-weight="normal" >4</text>
<text x="102.25" y="278" font-size="7.3" text-anchor="middle" fill="#222" color="#222" font-weight="normal" >6</text>
<text x="130.91" y="278" font-size="7.3" text-anchor="middle" fill="#222" color="#222" font-weight="normal" >8</text>
<text x="159.57" y="278" font-size="7.3" text-anchor="middle" fill="#222" color="#222" font-weight="normal" >10</text>
<path d="M30.6,268.7h-2.2M30.6,245.72h-2.2M30.6,222.74h-2.2M30.6,199.76h-2.2M30.6,176.78h-2.2M30.6,153.8h-2.2M30.6,257.21h-1.3M30.6,234.23h-1.3M30.6,211.25h-1.3M30.6,188.27h-1.3M30.6,165.29h-1.3" stroke="#333" stroke-width="0.9" fill="none"/>
<text x="27" y="270.65" font-size="7.3" text-anchor="end" fill="#222" color="#222" font-weight="normal" >0</text>
<text x="27" y="247.67" font-size="7.3" text-anchor="end" fill="#222" color="#222" font-weight="normal" >7</text>
<text x="27" y="224.69" font-size="7.3" text-anchor="end" fill="#222" color="#222" font-weight="normal" >14</text>
<text x="27" y="201.71" font-size="7.3" text-anchor="end" fill="#222" color="#222" font-weight="normal" >21</text>
<text x="27" y="178.73" font-size="7.3" text-anchor="end" fill="#222" color="#222" font-weight="normal" >28</text>
<text x="27" y="155.75" font-size="7.3" text-anchor="end" fill="#222" color="#222" font-weight="normal" >35</text>
<text x="102.6" y="286" font-size="7.7" text-anchor="middle" fill="#222" color="#222" font-weight="normal" >Current density (A g<tspan dy="-2.7" dx="0.4" font-size="5.2">-1</tspan><tspan dy="2.7">)</tspan></text>
<text transform="translate(15,214.6) rotate(-90)" font-size="7.75" text-anchor="middle" fill="#222" color="#222">Specific capacity (F g<tspan dy="-2.7" dx="0.4" font-size="5.2">-1</tspan><tspan dy="2.7">)</tspan></text>
<text x="192.3" y="156" font-size="12" text-anchor="start" fill="#222" color="#222" font-weight="normal" >(e)</text>
<defs><radialGradient id="ball" cx="0.38" cy="0.35" r="0.7"><stop offset="0" stop-color="#ff9a9a"/><stop offset="0.35" stop-color="#ff1a1a"/><stop offset="1" stop-color="#d00000"/></radialGradient></defs>
<g fill="url(#ball)"><circle cx="212.6" cy="164.7" r="1.95"/><circle cx="216" cy="173.4" r="1.95"/><circle cx="219.4" cy="180.5" r="1.95"/><circle cx="222.8" cy="184.3" r="1.95"/><circle cx="226.2" cy="182.6" r="1.95"/><circle cx="229.6" cy="178.5" r="1.95"/><circle cx="233" cy="180.9" r="1.95"/><circle cx="236.4" cy="181.4" r="1.95"/><circle cx="240.3" cy="182.6" r="1.95"/><circle cx="243.7" cy="184.3" r="1.95"/><circle cx="247.1" cy="185.6" r="1.95"/><circle cx="250.5" cy="186.4" r="1.95"/><circle cx="253.9" cy="185.7" r="1.95"/><circle cx="257.3" cy="186.4" r="1.95"/><circle cx="260.7" cy="187.8" r="1.95"/><circle cx="264.1" cy="188.6" r="1.95"/><circle cx="267.45" cy="189.05" r="1.95"/><circle cx="270.8" cy="189.5" r="1.95"/><circle cx="274.16" cy="189.68" r="1.95"/><circle cx="277.51" cy="189.86" r="1.95"/><circle cx="280.86" cy="190.65" r="1.95"/><circle cx="284.21" cy="191.99" r="1.95"/><circle cx="287.56" cy="192.81" r="1.95"/><circle cx="290.91" cy="193.34" r="1.95"/><circle cx="294.27" cy="193.62" r="1.95"/><circle cx="297.62" cy="193.83" r="1.95"/><circle cx="300.97" cy="193.94" r="1.95"/><circle cx="304.32" cy="194.18" r="1.95"/><circle cx="307.67" cy="194.58" r="1.95"/><circle cx="311.03" cy="195.02" r="1.95"/><circle cx="314.38" cy="195.52" r="1.95"/><circle cx="317.73" cy="195.91" r="1.95"/><circle cx="321.08" cy="196.15" r="1.95"/><circle cx="324.43" cy="196.42" r="1.95"/><circle cx="327.79" cy="196.72" r="1.95"/><circle cx="331.14" cy="197.06" r="1.95"/><circle cx="334.49" cy="197.45" r="1.95"/><circle cx="337.84" cy="198.03" r="1.95"/><circle cx="341.19" cy="198.92" r="1.95"/><circle cx="344.54" cy="199.64" r="1.95"/><circle cx="347.9" cy="200.04" r="1.95"/><circle cx="351.25" cy="200.38" r="1.95"/><circle cx="354.6" cy="200.6" r="1.95"/></g>
<text x="344.2" y="191.4" font-size="5.8" text-anchor="middle" fill="#222" color="#222" font-weight="normal" >65.6%</text>
<rect x="212.2" y="154.3" width="144.3" height="114.5" fill="none" stroke="#333" stroke-width="1.3"/>
<path d="M212.2,268.8v2.2M241.06,268.8v2.2M269.92,268.8v2.2M298.78,268.8v2.2M327.64,268.8v2.2M356.5,268.8v2.2M226.63,268.8v1.3M255.49,268.8v1.3M284.35,268.8v1.3M313.21,268.8v1.3M342.07,268.8v1.3" stroke="#333" stroke-width="0.9" fill="none"/>
<text x="212.2" y="278" font-size="7.3" text-anchor="middle" fill="#222" color="#222" font-weight="normal" >0</text>
<text x="241.06" y="278" font-size="7.3" text-anchor="middle" fill="#222" color="#222" font-weight="normal" >1000</text>
<text x="269.92" y="278" font-size="7.3" text-anchor="middle" fill="#222" color="#222" font-weight="normal" >2000</text>
<text x="298.78" y="278" font-size="7.3" text-anchor="middle" fill="#222" color="#222" font-weight="normal" >3000</text>
<text x="327.64" y="278" font-size="7.3" text-anchor="middle" fill="#222" color="#222" font-weight="normal" >4000</text>
<text x="356.5" y="278" font-size="7.3" text-anchor="middle" fill="#222" color="#222" font-weight="normal" >5000</text>
<path d="M212.2,268.8h-2.2M212.2,247.98h-2.2M212.2,227.16h-2.2M212.2,206.35h-2.2M212.2,185.53h-2.2M212.2,164.71h-2.2M212.2,258.39h-1.3M212.2,237.57h-1.3M212.2,216.75h-1.3M212.2,195.94h-1.3M212.2,175.12h-1.3" stroke="#333" stroke-width="0.9" fill="none"/>
<text x="208" y="270.75" font-size="7.3" text-anchor="end" fill="#222" color="#222" font-weight="normal" >0</text>
<text x="208" y="249.93" font-size="7.3" text-anchor="end" fill="#222" color="#222" font-weight="normal" >20</text>
<text x="208" y="229.11" font-size="7.3" text-anchor="end" fill="#222" color="#222" font-weight="normal" >40</text>
<text x="208" y="208.3" font-size="7.3" text-anchor="end" fill="#222" color="#222" font-weight="normal" >60</text>
<text x="208" y="187.48" font-size="7.3" text-anchor="end" fill="#222" color="#222" font-weight="normal" >80</text>
<text x="208" y="166.66" font-size="7.3" text-anchor="end" fill="#222" color="#222" font-weight="normal" >100</text>
<text x="285.5" y="288.2" font-size="7.5" text-anchor="middle" fill="#222" color="#222" font-weight="normal" >Cycle number</text>
<text transform="translate(193.5,219) rotate(-90)" font-size="7.6" text-anchor="middle" fill="#222" color="#222">Capacitance retention (%)</text>
<text x="368" y="157.4" font-size="12" text-anchor="start" fill="#222" color="#222" font-weight="normal" >(f)</text>
<path d="M394.9,235.86H541.1M394.9,215.36H541.1M394.9,200.82H541.1M394.9,189.54H541.1M394.9,180.32H541.1M394.9,172.53H541.1M394.9,165.78H541.1M394.9,159.83H541.1" stroke="#dcdcdc" stroke-width="0.6" fill="none"/>
<path d="M403.8,154.5V270.9M411.32,154.5V270.9M417.84,154.5V270.9M423.59,154.5V270.9M462.55,154.5V270.9M482.34,154.5V270.9M496.38,154.5V270.9M507.27,154.5V270.9M516.17,154.5V270.9M523.69,154.5V270.9M530.21,154.5V270.9M535.96,154.5V270.9" stroke="#f3f3f3" stroke-width="0.5" fill="none"/>
<path d="M428.73,154.5V270.9" stroke="#d8d8d8" stroke-width="0.6" fill="none"/>
<path d="M399.5,175.6 L481,186.8" stroke="#b4b8f6" stroke-width="1.25" fill="none" stroke-linejoin="round" stroke-linecap="round" />
<circle cx="399.5" cy="175.6" r="1.4" fill="#fff" stroke="#b4b8f6" stroke-width="0.6"/>
<circle cx="481" cy="186.8" r="1.4" fill="#fff" stroke="#b4b8f6" stroke-width="0.6"/>
<path d="M461.5,172.1 L473.2,206.5" stroke="#f7a4c4" stroke-width="0.8" fill="none" stroke-linejoin="round" stroke-linecap="round" />
<circle cx="461.5" cy="172.1" r="1.5" fill="#fff" stroke="#f7a4c4" stroke-width="0.6"/>
<circle cx="473.2" cy="206.5" r="1.5" fill="#fff" stroke="#f7a4c4" stroke-width="0.6"/>
<path d="M410.2,169.3 L445,242.4" stroke="#3a3ae8" stroke-width="1.1" fill="none" stroke-linejoin="round" stroke-linecap="round" />
<circle cx="410.2" cy="169.3" r="2.0" fill="#3a3ae8"/>
<circle cx="445" cy="242.4" r="2.0" fill="#3a3ae8"/>
<path d="M457.3,185.9 L493.8,202.7" stroke="#f23a3a" stroke-width="1.1" fill="none" stroke-linejoin="round" stroke-linecap="round" />
<circle cx="457.3" cy="185.9" r="2.0" fill="#f23a3a"/>
<circle cx="493.8" cy="202.7" r="2.0" fill="#f23a3a"/>
<path d="M448.9,157.6 L483.8,186.1 L502.8,199.6 L517,204 L528.6,208.1" stroke="#222" stroke-width="0.9" fill="none" stroke-linejoin="round" stroke-linecap="round" />
<circle cx="448.9" cy="157.6" r="2.0" fill="#222"/>
<circle cx="483.8" cy="186.1" r="2.0" fill="#222"/>
<circle cx="502.8" cy="199.6" r="2.0" fill="#222"/>
<circle cx="517" cy="204" r="2.0" fill="#222"/>
<circle cx="528.6" cy="208.1" r="2.0" fill="#222"/>
<rect x="394.9" y="154.5" width="146.2" height="116.4" fill="none" stroke="#333" stroke-width="1.3"/>
<path d="M394.9,270.9h-2.2M394.9,235.86h-2.2M394.9,215.36h-2.2M394.9,200.82h-2.2M394.9,189.54h-2.2M394.9,180.32h-2.2M394.9,172.53h-2.2M394.9,165.78h-2.2M394.9,159.83h-2.2M394.9,154.5h-2.2M394.9,250.4h-1.2M394.9,224.58h-1.2M394.9,207.57h-1.2M394.9,194.87h-1.2M394.9,184.72h-1.2M394.9,176.28h-1.2M394.9,169.04h-1.2M394.9,162.72h-1.2M394.9,157.09h-1.2M428.73,270.9v2.2M541.1,270.9v2.2M403.8,270.9v1.3M411.32,270.9v1.3M417.84,270.9v1.3M423.59,270.9v1.3M462.55,270.9v1.3M482.34,270.9v1.3M496.38,270.9v1.3M507.27,270.9v1.3M516.17,270.9v1.3M523.69,270.9v1.3M530.21,270.9v1.3M535.96,270.9v1.3" stroke="#333" stroke-width="0.8" fill="none"/>
<text x="391.2" y="273" font-size="7" text-anchor="end" fill="#222" color="#222" font-weight="normal" >1</text>
<text x="391.2" y="237.96" font-size="7" text-anchor="end" fill="#222" color="#222" font-weight="normal" >2</text>
<text x="391.2" y="217.46" font-size="7" text-anchor="end" fill="#222" color="#222" font-weight="normal" >3</text>
<text x="391.2" y="202.92" font-size="7" text-anchor="end" fill="#222" color="#222" font-weight="normal" >4</text>
<text x="391.2" y="191.64" font-size="7" text-anchor="end" fill="#222" color="#222" font-weight="normal" >5</text>
<text x="391.2" y="182.42" font-size="7" text-anchor="end" fill="#222" color="#222" font-weight="normal" >6</text>
<text x="391.2" y="174.63" font-size="7" text-anchor="end" fill="#222" color="#222" font-weight="normal" >7</text>
<text x="391.2" y="167.88" font-size="7" text-anchor="end" fill="#222" color="#222" font-weight="normal" >8</text>
<text x="391.2" y="161.93" font-size="7" text-anchor="end" fill="#222" color="#222" font-weight="normal" >9</text>
<text x="391.2" y="156.6" font-size="7" text-anchor="end" fill="#222" color="#222" font-weight="normal" >10</text>
<text x="428.73" y="280" font-size="7.3" text-anchor="middle" fill="#222" color="#222" font-weight="normal" >1k</text>
<text x="541.1" y="280" font-size="7.3" text-anchor="middle" fill="#222" color="#222" font-weight="normal" >10k</text>
<text x="468" y="288.2" font-size="7.7" text-anchor="middle" fill="#222" color="#222" font-weight="normal" >Power density (W kg<tspan dy="-2.7" dx="0.4" font-size="5.2">-1</tspan><tspan dy="2.7">)</tspan></text>
<text transform="translate(382.4,212) rotate(-90)" font-size="7.7" text-anchor="middle" fill="#222" color="#222">Energy density (Wh kg<tspan dy="-2.7" dx="0.4" font-size="5.2">-1</tspan><tspan dy="2.7">)</tspan></text>
<text x="493.4" y="228.8" font-size="7" text-anchor="start" fill="#111" color="#111" font-weight="normal"  textLength="27.2" lengthAdjust="spacingAndGlyphs">This work</text>
<text x="493.4" y="237" font-size="7" text-anchor="start" fill="#f02020" color="#f02020" font-weight="bold"  textLength="23.4" lengthAdjust="spacingAndGlyphs">CoS<tspan fill-opacity="0.4" stroke-opacity="0.3">||</tspan>AC</text>
<text x="493.4" y="245.1" font-size="7" text-anchor="start" fill="#f7a0c8" color="#f7a0c8" font-weight="normal"  textLength="43.3" lengthAdjust="spacingAndGlyphs">MnCo<tspan font-size="4.5" dy="1.5">2</tspan><tspan dy="-1.5">S</tspan><tspan font-size="4.5" dy="1.5">4</tspan><tspan dy="-1.5" fill-opacity="0.5">||</tspan><tspan>HNTs</tspan></text>
<text x="493.4" y="254.6" font-size="7" text-anchor="start" fill="#2020ee" color="#2020ee" font-weight="bold"  textLength="42.6" lengthAdjust="spacingAndGlyphs">MSMC<tspan fill-opacity="0.4" stroke-opacity="0.3">||</tspan>MSMC</text>
<text x="493.4" y="262.5" font-size="7" text-anchor="start" fill="#a6b0f6" color="#a6b0f6" font-weight="normal"  textLength="43.3" lengthAdjust="spacingAndGlyphs">MLCM<tspan fill-opacity="0.5" stroke-opacity="0.3">||</tspan>MLCM</text>
</svg>
</body></html>
